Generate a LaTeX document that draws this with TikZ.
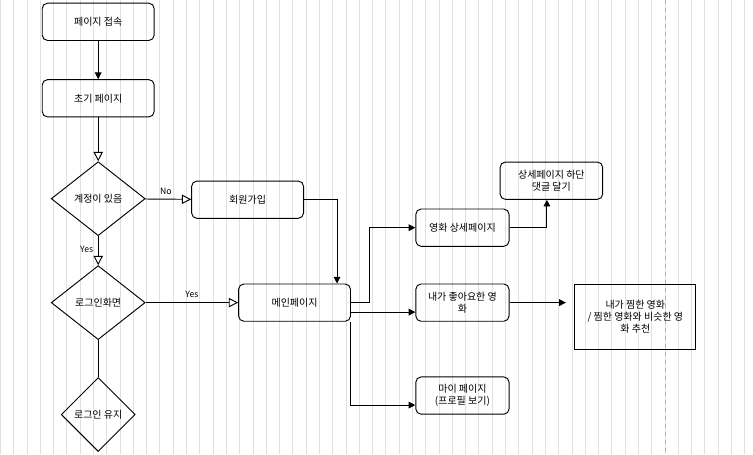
\documentclass[tikz,border=0pt]{standalone}
\usepackage{fontspec}
\setmainfont{Noto Sans CJK KR}
\usetikzlibrary{shapes.geometric,arrows.meta}
\begin{document}
\begin{tikzpicture}[x=0.75pt,y=-0.75pt,
  box/.style={draw,rounded corners=4pt,minimum width=84pt,minimum height=28pt,font=\fontsize{7.5}{9}\selectfont,align=center,line width=0.7pt},
  dia/.style={draw,diamond,aspect=1.27,inner sep=0pt,minimum width=70.5pt,minimum height=55.5pt,font=\fontsize{7.5}{9}\selectfont,line width=0.7pt},
  fa/.style={-{Triangle[length=5pt,width=5pt]},line width=0.7pt},
  oa/.style={-{Triangle[open,length=7pt,width=7pt]},line width=0.7pt},
  lab/.style={font=\fontsize{6.5}{8}\selectfont}]
\fill[white] (0,0) rectangle (753,454);
\draw[black!12,line width=0.4pt] (0,0) grid[step=13.3] (753,454);
\draw[black!30,dashed,line width=0.5pt] (666,0) -- (666,454);
\useasboundingbox (0,0) rectangle (753,454);
\node[box] (a) at (98,21.5) {페이지 접속};
\node[box] (b) at (98,98) {초기 페이지};
\node[dia] (c) at (98,198.5) {계정이 있음};
\node[box] (d) at (247.5,199.5) {회원가입};
\node[dia] (e) at (98,302.5) {로그인화면};
\node[dia,minimum width=55.5pt] (f) at (98,414.5) {로그인 유지};
\node[box] (m) at (294.5,302.5) {메인페이지};
\node[box,minimum width=70pt] (g) at (462.5,227.5) {영화 상세페이지};
\node[box,minimum width=77pt] (h) at (551.5,180.5) {상세페이지 하단\\댓글 달기};
\node[box,minimum width=70pt] (i) at (462.5,302.5) {내가 좋아요한 영\\화};
\node[draw,line width=0.7pt,minimum width=91pt,minimum height=49pt,align=center,font=\fontsize{7.5}{9}\selectfont] (j) at (635.5,316.5) {내가 찜한 영화\\/ 찜한 영화와 비슷한 영\\화 추천};
\node[box,minimum width=70pt] (k) at (462.5,395.5) {마이 페이지\\(프로필 보기)};
\coordinate (jend) at (566,302.5);
\draw[fa] (a) -- (b);
\draw[oa] (b) -- (c);
\draw[oa] (c) -- node[lab,above,pos=0.45]{No} (d);
\draw[oa] (c) -- node[lab,left,pos=0.45]{Yes} (e);
\draw[oa] (e) -- node[lab,above,pos=0.5]{Yes} (m);
\draw[line width=0.7pt] (e) -- (f);
\draw[fa] (d.east) -| (m.north -| 337,0);
\draw[fa] ([yshift=0pt]m.east) -- (369,302.5) |- (g.west);
\draw[fa] (m.east |- 0,312) -- (i.west |- 0,312);
\draw[fa] (m.south -| 350,0) |- (k.west |- 0,405);
\draw[fa] (g.east) -| (h.south -| 547,0);
\draw[fa] (i.east) -- (jend);
\end{tikzpicture}
\end{document}
